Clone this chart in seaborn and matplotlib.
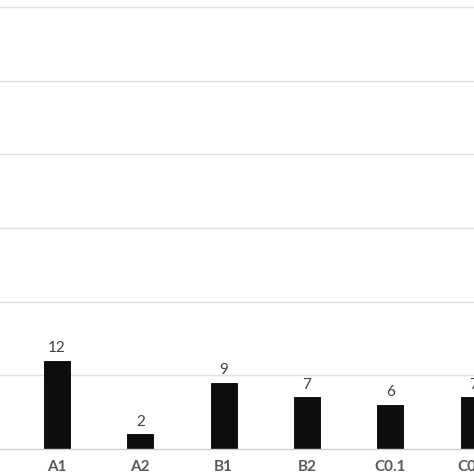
import matplotlib
matplotlib.use("Agg")
import matplotlib.pyplot as plt
import seaborn as sns
import pandas as pd
import numpy as np

categories = ["A1", "A2", "B1", "B2", "C0.1", "C0.2"]
values = [12, 2, 9, 7, 6, 7]

sns.set_style("white")
plt.rcParams['font.family'] = ['Lato', 'DejaVu Sans']

df = pd.DataFrame({"cat": categories, "val": values})

fig = plt.figure(figsize=(4.74, 4.74), dpi=100)
# axes deliberately extend beyond the figure (reference is a cropped chart)
ax = fig.add_axes([-5.5/474, 25/474, 541.5/474, 445.7/474])

sns.barplot(data=df, x="cat", y="val", color="#0d0d0d", width=0.31,
            edgecolor="#000000", linewidth=0.6, saturation=1, ax=ax)

ax.set_xlim(-0.75, 5.75)
ax.set_ylim(0, 60.5)
ax.set_yticks([10, 20, 30, 40, 50, 60])
ax.yaxis.grid(True, color="#e0e0e0", linewidth=1.0)
ax.set_axisbelow(True)
ax.tick_params(axis="y", left=False, labelleft=False)
for s in ["top", "right", "left"]:
    ax.spines[s].set_visible(False)
ax.spines["bottom"].set_color("#d0d0d0")
ax.spines["bottom"].set_linewidth(1.0)

ax.set_xlabel("")
ax.set_ylabel("")
ax.tick_params(axis="x", which="major", length=0, pad=8)
ax.set_xticks(np.arange(-0.5, 6.0, 1.0), minor=True)
ax.tick_params(axis="x", which="minor", length=5, color="#d0d0d0", width=1.0)
for lab in ax.get_xticklabels():
    lab.set_fontweight("bold")
    lab.set_fontsize(11)
    lab.set_color("#595959")

for i, v in enumerate(values):
    ax.annotate(str(v), (i, v), xytext=(0, 4), textcoords="offset points",
                ha="center", va="bottom", fontsize=11, color="#404040")

fig.savefig("out.png", dpi=100)
